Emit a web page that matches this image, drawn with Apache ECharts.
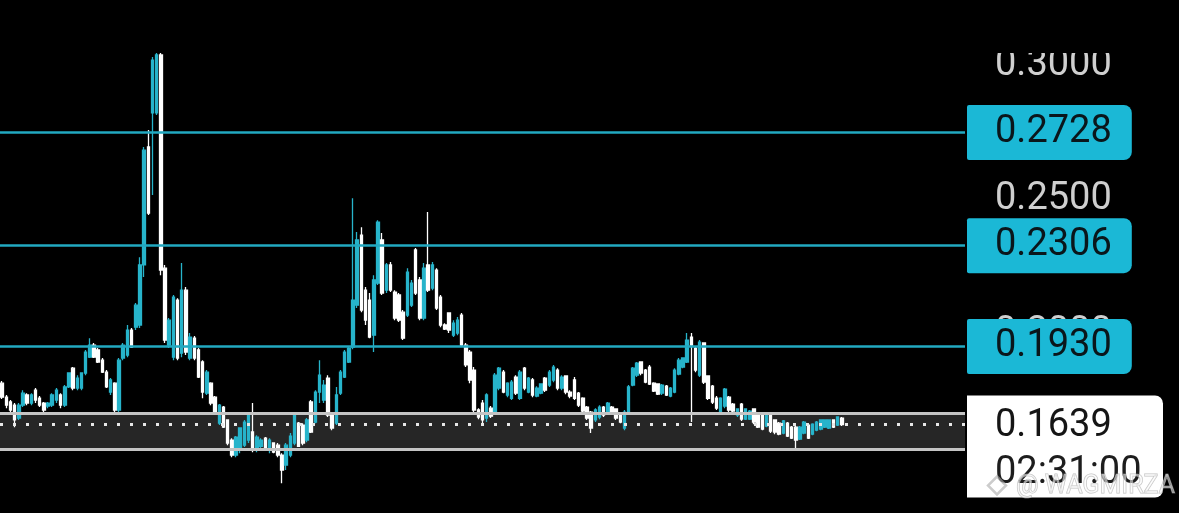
<!DOCTYPE html>
<html><head><meta charset="utf-8">
<script src="https://cdn.jsdelivr.net/npm/echarts@6/dist/echarts.min.js"></script>
<style>html,body{margin:0;padding:0;background:#000;}#c{width:1179px;height:513px;}</style>
</head><body><div id="c"></div>
<script>
// [open, close, low, high]
const candles = [
[0.1793,0.1741,0.1734,0.1801],[0.1741,0.1711,0.1700,0.1749],[0.1723,0.1693,0.1685,0.1730],[0.1711,0.1656,0.1629,0.1719],
[0.1663,0.1711,0.1656,0.1719],[0.1711,0.1756,0.1704,0.1767],[0.1749,0.1719,0.1711,0.1756],[0.1719,0.1749,0.1711,0.1756],
[0.1767,0.1730,0.1719,0.1775],[0.1737,0.1711,0.1704,0.1745],[0.1719,0.1693,0.1685,0.1723],
[0.1708,0.1719,0.1700,0.1723],[0.1711,0.1749,0.1704,0.1756],[0.1730,0.1767,0.1719,0.1775],
[0.1749,0.1711,0.1700,0.1756],[0.1711,0.1779,0.1704,0.1786],[0.1779,0.1831,0.1775,0.1834],[0.1849,0.1775,0.1767,0.1853],
[0.1775,0.1812,0.1767,0.1823],[0.1775,0.1831,0.1767,0.1834],[0.1831,0.1909,0.1823,0.1917],[0.1890,0.1935,0.1887,0.1961],
[0.1935,0.1890,0.1887,0.1943],[0.1917,0.1872,0.1868,0.1924],[0.1879,0.1834,0.1831,0.1887],[0.1834,0.1779,0.1775,0.1842],
[0.1760,0.1805,0.1749,0.1812],[0.1793,0.1693,0.1685,0.1797],[0.1693,0.1879,0.1685,0.1887],[0.1887,0.1935,0.1879,0.1943],
[0.1898,0.1991,0.1890,0.2010],[0.1991,0.1928,0.1924,0.1999],[0.2002,0.2084,0.1991,0.2092],[0.2010,0.2234,0.1999,0.2263],
[0.2234,0.2662,0.2189,0.2674],[0.2674,0.2427,0.2420,0.2737],[0.2801,0.2998,0.2495,0.3009],[0.2801,0.3017,0.2793,0.3024],
[0.3017,0.2215,0.2196,0.3024],[0.2222,0.1954,0.1943,0.2234],[0.1935,0.2028,0.1924,0.2036],[0.1890,0.2114,0.1879,0.2122],
[0.2103,0.1887,0.1879,0.2110],[0.1905,0.2140,0.1890,0.2241],[0.2140,0.1909,0.1898,0.2152],[0.1887,0.1965,0.1879,0.1980],
[0.1961,0.1887,0.1879,0.1969],[0.1917,0.1816,0.1812,0.1924],[0.1872,0.1760,0.1737,0.1879],[0.1756,0.1834,0.1749,0.1842],
[0.1793,0.1719,0.1711,0.1797],[0.1741,0.1685,0.1681,0.1745],[0.1644,0.1711,0.1637,0.1715],[0.1704,0.1629,0.1626,0.1708],
[0.1656,0.1570,0.1562,0.1659],[0.1581,0.1525,0.1517,0.1588],[0.1525,0.1592,0.1517,0.1596],[0.1544,0.1626,0.1532,0.1629],
[0.1562,0.1648,0.1555,0.1656],[0.1581,0.1674,0.1570,0.1681],[0.1611,0.1544,0.1536,0.1719],[0.1544,0.1592,0.1536,0.1599],
[0.1558,0.1581,0.1551,0.1588],[0.1588,0.1551,0.1544,0.1592],[0.1544,0.1581,0.1532,0.1588],[0.1570,0.1536,0.1532,0.1573],
[0.1562,0.1525,0.1517,0.1570],[0.1525,0.1469,0.1420,0.1532],[0.1488,0.1562,0.1469,0.1570],[0.1525,0.1596,0.1517,0.1607],
[0.1570,0.1674,0.1562,0.1681],[0.1644,0.1558,0.1555,0.1648],[0.1637,0.1570,0.1562,0.1644],[0.1581,0.1656,0.1573,0.1663],
[0.1723,0.1611,0.1607,0.1730],[0.1648,0.1760,0.1644,0.1767],[0.1760,0.1823,0.1719,0.1879],[0.1730,0.1786,0.1719,0.1805],
[0.1812,0.1674,0.1667,0.1823],[0.1681,0.1626,0.1618,0.1685],[0.1644,0.1749,0.1637,0.1779],
[0.1756,0.1834,0.1749,0.1842],[0.1816,0.1909,0.1812,0.1917],[0.1872,0.1924,0.1868,0.1928],[0.1928,0.2103,0.1920,0.2483],
[0.2084,0.2327,0.2073,0.2357],[0.2345,0.2066,0.2058,0.2375],[0.2140,0.2028,0.2010,0.2152],[0.2103,0.1965,0.1961,0.2129],
[0.1972,0.2178,0.1909,0.2196],[0.2166,0.2394,0.2159,0.2401],[0.2327,0.2129,0.2122,0.2353],[0.2140,0.2234,0.2129,0.2241],
[0.2234,0.2140,0.2133,0.2245],[0.2133,0.2036,0.2028,0.2140],[0.2122,0.2028,0.2021,0.2129],[0.2058,0.1961,0.1954,0.2066],
[0.2047,0.2207,0.2040,0.2222],[0.2084,0.2166,0.2077,0.2178],[0.2290,0.2129,0.2122,0.2297],[0.2178,0.2036,0.2028,0.2189],
[0.2036,0.2222,0.2028,0.2241],[0.2234,0.2140,0.2133,0.2431],[0.2148,0.2234,0.2140,0.2245],[0.2215,0.2073,0.2066,0.2222],
[0.2114,0.2010,0.2002,0.2122],[0.2010,0.1995,0.1991,0.2017],[0.2055,0.1991,0.1980,0.2058],[0.1972,0.2017,0.1965,0.2028],[0.1980,0.2028,0.1972,0.2040],
[0.2047,0.1935,0.1928,0.2055],[0.1935,0.1861,0.1853,0.1943],[0.1909,0.1805,0.1793,0.1917],[0.1842,0.1693,0.1681,0.1853],
[0.1693,0.1667,0.1659,0.1700],
[0.1719,0.1656,0.1644,0.1730],[0.1663,0.1749,0.1648,0.1756],[0.1700,0.1670,0.1663,0.1708],[0.1681,0.1823,0.1674,0.1831],
[0.1775,0.1849,0.1767,0.1853],[0.1834,0.1760,0.1756,0.1842],[0.1749,0.1793,0.1741,0.1797],[0.1737,0.1797,0.1730,0.1805],
[0.1816,0.1756,0.1749,0.1823],[0.1737,0.1834,0.1730,0.1842],[0.1849,0.1775,0.1767,0.1853],[0.1760,0.1812,0.1756,0.1816],
[0.1805,0.1749,0.1741,0.1812],[0.1745,0.1775,0.1741,0.1782],[0.1756,0.1790,0.1752,0.1793],[0.1812,0.1767,0.1760,0.1816],
[0.1786,0.1834,0.1779,0.1842],[0.1805,0.1853,0.1797,0.1861],[0.1842,0.1775,0.1767,0.1849],[0.1775,0.1816,0.1767,0.1823],
[0.1820,0.1760,0.1752,0.1823],[0.1760,0.1745,0.1737,0.1767],[0.1805,0.1737,0.1730,0.1816],[0.1756,0.1711,0.1704,0.1760],[0.1737,0.1689,0.1681,0.1741],
[0.1704,0.1663,0.1656,0.1708],[0.1685,0.1626,0.1607,0.1689],[0.1656,0.1693,0.1648,0.1700],[0.1667,0.1704,0.1659,0.1711],
[0.1704,0.1674,0.1667,0.1708],[0.1681,0.1719,0.1674,0.1723],[0.1704,0.1681,0.1674,0.1708],[0.1697,0.1663,0.1656,0.1700],
[0.1678,0.1648,0.1644,0.1681],[0.1626,0.1685,0.1618,0.1693],[0.1681,0.1779,0.1674,0.1786],[0.1786,0.1849,0.1782,0.1853],
[0.1823,0.1868,0.1816,0.1872],[0.1872,0.1831,0.1823,0.1875],[0.1842,0.1797,0.1793,0.1846],[0.1853,0.1790,0.1786,0.1861],
[0.1793,0.1764,0.1760,0.1797],[0.1790,0.1752,0.1749,0.1793],[0.1756,0.1786,0.1749,0.1790],[0.1782,0.1749,0.1745,0.1786],
[0.1745,0.1775,0.1741,0.1779],[0.1760,0.1842,0.1756,0.1849],[0.1827,0.1879,0.1823,0.1887],[0.1853,0.1887,0.1849,0.1890],
[0.1872,0.1954,0.1868,0.1980],[0.1965,0.1935,0.1648,0.1980],[0.1924,0.1842,0.1834,0.1931],[0.1823,0.1946,0.1816,0.1954],
[0.1943,0.1797,0.1790,0.1946],[0.1820,0.1737,0.1730,0.1823],[0.1782,0.1723,0.1715,0.1786],[0.1737,0.1700,0.1693,0.1745],
[0.1685,0.1737,0.1678,0.1741],[0.1708,0.1771,0.1700,0.1775],[0.1741,0.1693,0.1685,0.1745],[0.1715,0.1689,0.1685,0.1719],
[0.1674,0.1697,0.1667,0.1700],[0.1715,0.1659,0.1652,0.1719],[0.1659,0.1697,0.1656,0.1700],[0.1659,0.1689,0.1656,0.1693],
[0.1697,0.1648,0.1640,0.1700],[0.1674,0.1629,0.1626,0.1678],[0.1674,0.1622,0.1618,0.1678],[0.1633,0.1678,0.1629,0.1681],
[0.1674,0.1614,0.1607,0.1678],[0.1656,0.1611,0.1603,0.1659],[0.1644,0.1603,0.1599,0.1648],[0.1607,0.1652,0.1603,0.1656],
[0.1644,0.1596,0.1592,0.1648],[0.1629,0.1588,0.1585,0.1633],[0.1629,0.1581,0.1551,0.1633],[0.1585,0.1629,0.1581,0.1633],
[0.1607,0.1648,0.1603,0.1652],[0.1637,0.1588,0.1585,0.1640],[0.1603,0.1640,0.1599,0.1644],[0.1618,0.1648,0.1614,0.1652],
[0.1622,0.1656,0.1618,0.1659],[0.1629,0.1656,0.1626,0.1659],[0.1626,0.1656,0.1622,0.1659],[0.1656,0.1629,0.1626,0.1659],
[0.1637,0.1667,0.1633,0.1670],[0.1663,0.1639,0.1633,0.1667]
];
const levelLines = [0.2728, 0.2306, 0.1930];
const axisTickValues = [0.2000, 0.2500, 0.3000];
const bandTop = 0.1681;
const bandBottom = 0.1547;
const lastPrice = 0.1639;
const countdown = '02:31:00';
const watermark = '@ WAGMIRZA';
const slotCount = 231; // candle slots incl. empty right margin
const categories = Array.from({length: slotCount}, (_, i) => String(i + 1));

const TEAL = '#27b4cb';
const FONT = 'Roboto';

const chart = echarts.init(document.getElementById('c'), null, {renderer: 'canvas'});
chart.setOption({
  backgroundColor: '#000',
  animation: false,
  grid: {left: 0, right: 214, top: 0, bottom: 0},
  xAxis: {
    type: 'category', data: categories, boundaryGap: true,
    axisLine: {show: false}, axisTick: {show: false}, axisLabel: {show: false}, splitLine: {show: false}
  },
  yAxis: {
    type: 'value', position: 'right', min: 0.1309, max: 0.3222, scale: true,
    axisLine: {show: false}, axisTick: {show: false}, splitLine: {show: false},
    axisLabel: {
      show: true, customValues: axisTickValues, margin: 30,
      formatter: v => '{a|' + v.toFixed(4) + '}',
      rich: {a: {color: '#cfcfcf', fontSize: 38, fontFamily: FONT, padding: [12, 0, 0, 0]}}
    }
  },
  series: [
    {
      type: 'line', name: 'band', data: [], z: 1, silent: true,
      markArea: {silent: true, precision: 4, itemStyle: {color: '#262626'}, data: [[{yAxis: bandTop}, {yAxis: bandBottom}]]},
      markLine: {
        silent: true, symbol: 'none', animation: false, precision: 4,
        label: {show: false},
        lineStyle: {color: '#c4c4c4', width: 3, type: 'solid'},
        data: [
          {yAxis: bandTop}, {yAxis: bandBottom},
          {yAxis: lastPrice, lineStyle: {color: '#e8e8e8', width: 3, type: [3, 10], cap: 'butt'}}
        ]
      }
    },
    {
      type: 'line', name: 'levels', data: [], z: 2, silent: true,
      markLine: {
        silent: true, symbol: 'none', animation: false, precision: 4,
        lineStyle: {color: '#22a9c1', width: 2.5, type: 'solid'},
        label: {
          show: true, position: 'end', distance: 2,
          fontFamily: FONT, fontSize: 38, lineHeight: 41, color: '#0a161b',
          backgroundColor: '#1bb8d6', padding: [7, 20, 7, 28], borderRadius: [2, 8, 8, 2]
        },
        data: levelLines.map(v => ({yAxis: v, label: {formatter: v.toFixed(4)}}))
      }
    },
    {
      type: 'candlestick', name: 'price', z: 3, data: candles, barWidth: 3,
      itemStyle: {color: TEAL, color0: '#ffffff', borderColor: TEAL, borderColor0: '#ffffff', borderWidth: 1.3}
    }
  ]
});

const py = chart.convertToPixel({yAxisIndex: 0}, lastPrice);
chart.setOption({
  graphic: [
    {type: 'rect', z: 100, shape: {x: 0, y: 0, width: 1179, height: 53}, style: {fill: '#000'}},
    {type: 'rect', z: 90, shape: {x: 967, y: py - 29, width: 196, height: 102, r: [0, 8, 8, 0]}, style: {fill: '#ffffff'}},
    {type: 'text', z: 91, x: 995, y: py + 2, style: {text: lastPrice.toFixed(4), font: '38px ' + FONT, fill: '#151515', verticalAlign: 'middle'}},
    {type: 'text', z: 91, x: 995, y: py + 49, style: {text: countdown, font: '38px ' + FONT, fill: '#1d1d1d', verticalAlign: 'middle'}},
    {type: 'polygon', z: 95, shape: {points: [[997, py + 52], [1006, py + 61], [997, py + 70], [988, py + 61]]},
      style: {fill: 'none', stroke: 'rgba(170,170,170,0.6)', lineWidth: 2.5}},
    {type: 'text', z: 95, x: 1016, y: py + 62, style: {text: watermark, font: '25px ' + FONT, fill: 'rgba(255,255,255,0.55)', stroke: 'rgba(150,150,150,0.6)', lineWidth: 1, verticalAlign: 'middle'}}
  ]
});
</script>
</body></html>
